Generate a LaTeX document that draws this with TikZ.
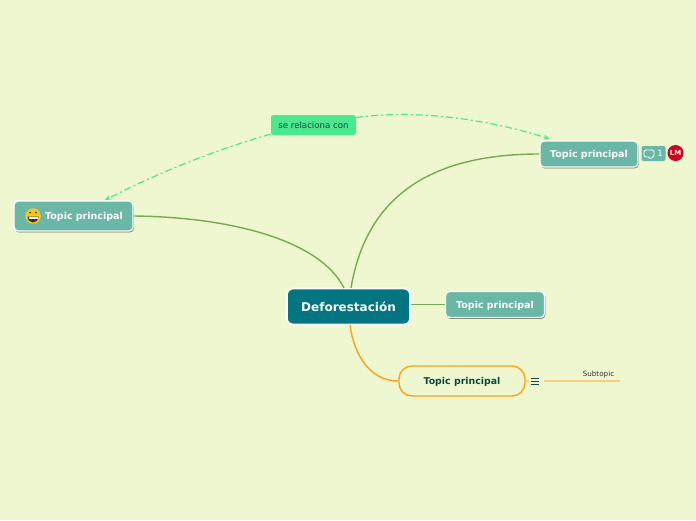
\documentclass[tikz,border=0pt]{standalone}
\usepackage{fontspec}
\setmainfont{DejaVu Sans}
\usetikzlibrary{shadows,arrows.meta}
\definecolor{mybg}{HTML}{EEF7CF}
\definecolor{myroot}{HTML}{017580}
\definecolor{mytopic}{HTML}{6BB7A5}
\definecolor{mygreen}{HTML}{77AC4E}
\definecolor{myorange}{HTML}{FBA31B}
\definecolor{mylight}{HTML}{F9CE7C}
\definecolor{mylink}{HTML}{4BE88E}
\definecolor{mydark}{HTML}{0B4A3E}
\definecolor{myred}{HTML}{D0021B}
\definecolor{mysmile}{HTML}{F7C51E}
\tikzset{
  topicbox/.style={draw=white, line width=1.4pt, fill=mytopic, rounded corners=4pt, text=white,
    font=\bfseries\fontsize{9.5}{11}\selectfont, text height=9pt, text depth=2pt, minimum height=30pt, inner sep=0pt,
    drop shadow={shadow xshift=0.8pt, shadow yshift=-1.4pt, fill=black, opacity=0.5}},
  rootbox/.style={draw=white, line width=1.8pt, fill=myroot, rounded corners=6pt, text=white,
    font=\bfseries\fontsize{12}{14}\selectfont, minimum width=123pt, minimum height=36pt},
  linkbox/.style={fill=mylink, rounded corners=2.5pt, text=mydark, font=\fontsize{8.6}{10}\selectfont,
    minimum width=85pt, minimum height=20pt, inner sep=0pt},
  branch/.style={mygreen, line width=1.4pt},
  orangeline/.style={myorange, line width=1.4pt},
  relation/.style={mylink, line width=1.2pt, dash pattern=on 7pt off 3pt on 2pt off 3pt, -{Stealth[length=6pt,width=5pt]}}
}
\begin{document}
\begin{tikzpicture}[x=1pt, y=-1pt]
    \fill[mybg] (0,0) rectangle (696,520);
    \useasboundingbox (0,0) rectangle (696,520);

    % nodes
    \node[rootbox] (root) at (348.5,306.5) {Deforestación};
    \node[topicbox, minimum width=119pt] (left) at (73.5,216) {\hspace{21pt}Topic principal};
    \node[topicbox, minimum width=98pt, minimum height=26pt] (upper) at (589,154) {Topic principal};
    \node[topicbox, minimum width=99pt, minimum height=26pt] (middle) at (495,304.5) {Topic principal};
    \node[draw=myorange, line width=1.4pt, fill=mybg, rounded corners=13pt, text=mydark,
      font=\bfseries\fontsize{9.4}{11}\selectfont, text height=9pt, text depth=2pt,
      minimum width=126pt, minimum height=30pt, inner sep=0pt]
      (lower) at (462,381) {Topic principal};
    \node[linkbox] (link) at (313.5,125) {se relaciona con};

    % smiley
    \node[circle, fill=mysmile, minimum size=15.5pt, inner sep=0pt] (smiley) at (33,216) {};
    \fill[black!80] (27.5,216.5) .. controls (28,224.5) and (38,224.5) .. (38.5,216.5) -- cycle;
    \fill[white] (28.5,217) rectangle (37.5,219);
    \fill[black!80] (30,212.5) circle[radius=1pt] (36,212.5) circle[radius=1pt];

    % comment badge and avatar
    \node[fill=mytopic, rounded corners=2pt, text=white, font=\fontsize{8.6}{10}\selectfont,
      minimum width=24pt, minimum height=15pt, inner sep=0pt] (badge) at (653.5,153.5) {\hspace{13pt}1};
    \draw[white, line width=0.8pt, line join=round, rounded corners=1.5pt]
      (644,150) -- (654,150) -- (654,157) -- (652,157) -- (650,159.5) -- (650,157) -- (644,157) -- cycle;
    \node[circle, fill=myred, text=white, minimum size=16pt, inner sep=0pt,
      font=\bfseries\fontsize{7}{8}\selectfont] (avatar) at (675.5,153) {LM};

    % connectors
    \draw[branch] (left.east) .. controls (230,217) and (320,240) .. (344,288);
    \draw[branch] (351,288) .. controls (365,205) and (420,154) .. (upper.west);
    \draw[branch] (root.east |- middle.west) -- (middle.west);
    \draw[orangeline] (350,325) .. controls (354,355) and (370,381) .. (lower.west);

    % relation arrows
    \coordinate (leftend) at (105,200);
    \coordinate (upperend) at (550,139);
    \draw[relation] (link.192) .. controls (215,150) and (160,172) .. (leftend);
    \draw[relation] (link.10) .. controls (420,109) and (490,120) .. (upperend);

    % subtopic
    \coordinate (hubstart) at (544,381);
    \coordinate (subend) at (620,381);
    \draw[mylight, line width=1.2pt] (lower.east) -- +(3,0);
    \draw[mydark, line width=0.9pt] (531,378) -- +(8,0) (531,381) -- +(8,0) (531,384) -- +(8,0);
    \draw[mylight, line width=1.2pt] (hubstart) -- (subend);
    \node[font=\fontsize{7.2}{9}\selectfont, text=black!80, inner sep=0pt] (subtopic) at (598.5,375) {Subtopic};
\end{tikzpicture}
\end{document}
